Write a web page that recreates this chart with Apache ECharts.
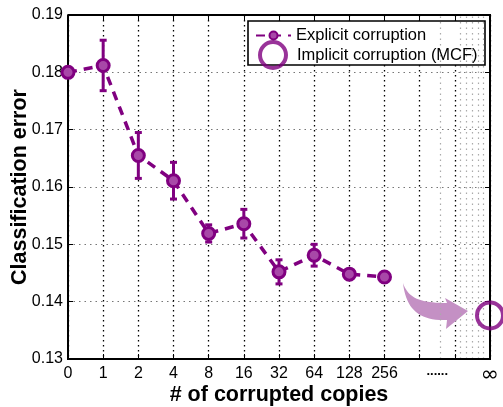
<!DOCTYPE html>
<html>
<head>
<meta charset="utf-8">
<script src="https://cdn.jsdelivr.net/npm/echarts@6/dist/echarts.min.js"></script>
<style>
  html, body { margin: 0; padding: 0; background: #fff; }
  #chart { width: 503px; height: 407px; }
</style>
</head>
<body>
<div id="chart"></div>
<script>
// Tick labels for the x positions 0..12 (10 and 11 lie in the gap before infinity)
var copyLabels = ['0', '1', '2', '4', '8', '16', '32', '64', '128', '256', '', '', '∞'];
// Mean classification error with explicit corruption, one value per copy count
var explicitMean = [0.1800, 0.1812, 0.1655, 0.1611, 0.1519, 0.1536, 0.1452, 0.1481, 0.1448, 0.1443];
// Half-length of the error bar at each copy count
var explicitErr = [0.0000, 0.0044, 0.0040, 0.0032, 0.0015, 0.0025, 0.0021, 0.0019, 0.0007, 0.0005];
// Marginalized corrupted features: the limit of infinitely many copies
var implicitMCF = 0.1376;
var infinityPos = 12;
// Extra faint grid lines crowding towards infinity
var fadeLines = [10.58, 11.15, 11.32, 11.5, 11.66, 11.8];

var PURPLE = '#800080';
var FONT = 'Liberation Sans';
var GRID = { left: 68, right: 13, top: 15, bottom: 48 };
var W = 503, H = 407;
var X0 = GRID.left, X1 = W - GRID.right, Y0 = GRID.top, Y1 = H - GRID.bottom;

var chart = echarts.init(document.getElementById('chart'), null, { renderer: 'canvas' });

var explicitData = explicitMean.map(function (v, i) { return [i, v]; });
var errData = explicitMean.map(function (v, i) { return [i, v - explicitErr[i], v + explicitErr[i]]; });

// sample a cubic bezier into polygon points
function bezier(p0, p1, p2, p3, n) {
  var pts = [];
  for (var k = 0; k <= n; k++) {
    var t = k / n, u = 1 - t;
    pts.push([
      u * u * u * p0[0] + 3 * u * u * t * p1[0] + 3 * u * t * t * p2[0] + t * t * t * p3[0],
      u * u * u * p0[1] + 3 * u * u * t * p1[1] + 3 * u * t * t * p2[1] + t * t * t * p3[1]
    ]);
  }
  return pts;
}
var arrowPts = []
  .concat(bezier([403, 283], [408, 298], [420, 303], [447, 303], 20))
  .concat([[445, 298], [468, 311], [446, 329], [447, 320]])
  .concat(bezier([447, 320], [420, 321], [406, 310], [403, 283], 20));

function frameLine() { return { show: true, onZero: false, lineStyle: { color: '#000', width: 1.5 } }; }
function innerTick() { return { show: true, inside: true, length: 5, lineStyle: { color: '#000' } }; }

var option = {
  animation: false,
  backgroundColor: '#fff',
  grid: {
    left: GRID.left, right: GRID.right, top: GRID.top, bottom: GRID.bottom,
    containLabel: false, outerBoundsMode: 'none'
  },
  xAxis: [
    {
      type: 'value', min: 0, max: 12, interval: 1, position: 'bottom',
      axisLine: frameLine(), axisTick: innerTick(),
      splitLine: { show: true, lineStyle: { color: '#000', type: [1.5, 3.5], width: 1.3 } },
      axisLabel: {
        color: '#000', fontFamily: FONT, fontSize: 16, margin: 7,
        showMinLabel: true, showMaxLabel: true,
        formatter: function (v) {
          var s = copyLabels[Math.round(v)] || '';
          return s === '∞' ? '{inf|∞}' : s;
        },
        rich: { inf: { fontFamily: 'DejaVu Sans', fontSize: 22, color: '#000', padding: [-2, 0, 0, 0] } }
      },
      name: '# of corrupted copies', nameLocation: 'middle', nameGap: 25, nameMoveOverlap: false,
      nameTextStyle: { color: '#000', fontFamily: FONT, fontSize: 21.5, fontWeight: 'bold' }
    },
    {
      type: 'value', min: 0, max: 24, interval: 1, position: 'bottom',
      axisLine: { show: false, onZero: false }, axisTick: { show: false }, splitLine: { show: false },
      axisLabel: {
        color: '#000', fontFamily: FONT, fontSize: 13, margin: 6, fontWeight: 'bold',
        formatter: function (v) { return Math.round(v) === 21 ? '......' : ''; }
      }
    },
    {
      type: 'value', min: 0, max: 12, interval: 1, position: 'top',
      axisLine: frameLine(), axisTick: innerTick(),
      axisLabel: { show: false }, splitLine: { show: false }
    }
  ],
  yAxis: [
    {
      type: 'value', min: 0.13, max: 0.19, interval: 0.01,
      axisLine: frameLine(), axisTick: innerTick(),
      splitLine: { show: true, lineStyle: { color: '#777', type: [1.5, 4], width: 1.2 } },
      axisLabel: {
        color: '#000', fontFamily: FONT, fontSize: 16, margin: 5,
        formatter: function (v) { return v.toFixed(2); }
      },
      name: 'Classification error', nameLocation: 'middle', nameGap: 37, nameMoveOverlap: false,
      nameTextStyle: { color: '#000', fontFamily: FONT, fontSize: 21.5, fontWeight: 'bold' }
    },
    {
      type: 'value', min: 0.13, max: 0.19, interval: 0.01, position: 'right',
      axisLine: frameLine(), axisTick: innerTick(),
      axisLabel: { show: false }, splitLine: { show: false }
    }
  ],
  legend: [
    {
      data: ['Explicit corruption'], left: 255, top: 27, orient: 'vertical', padding: 0,
      itemWidth: 35, itemHeight: 10, itemGap: 0, z: 10,
      textStyle: { color: '#000', fontFamily: FONT, fontSize: 16.5 }
    },
    {
      data: [{ name: 'Implicit corruption (MCF)', icon: 'circle' }], left: 258, top: 40, padding: 0,
      itemWidth: 26, itemHeight: 26, z: 10,
      itemStyle: { color: 'rgba(0,0,0,0)', borderColor: PURPLE, borderWidth: 4 },
      textStyle: { color: '#000', fontFamily: FONT, fontSize: 16.5, padding: [0, 0, 0, 6] }
    }
  ],
  graphic: [
    {
      // black box around the plotting area
      type: 'polyline', z: 6, silent: true,
      shape: { points: [[X0, Y0], [X1, Y0], [X1, Y1], [X0, Y1], [X0, Y0]] },
      style: { fill: null, stroke: '#000', lineWidth: 2 }
    },
    {
      type: 'rect', z: 5, silent: true,
      shape: { x: 248, y: 21, width: 237, height: 44 },
      style: { fill: '#fff', stroke: '#000', lineWidth: 1.6 }
    },
    {
      // curved arrow pointing from the last explicit point to the MCF limit
      type: 'polygon', z: 5, silent: true,
      shape: { points: arrowPts },
      style: { fill: '#c490c4' }
    }
  ],
  series: [
    {
      name: 'grid-fade', type: 'line', data: [], silent: true,
      xAxisIndex: 2, yAxisIndex: 1,
      markLine: {
        silent: true, symbol: 'none', label: { show: false },
        lineStyle: { color: '#aaa', type: [1.5, 4], width: 1.2 },
        data: fadeLines.map(function (x) { return { xAxis: x }; })
      }
    },
    {
      type: 'custom', name: 'error', z: 3,
      renderItem: function (params, api) {
        var x = api.value(0);
        var lo = api.coord([x, api.value(1)]);
        var hi = api.coord([x, api.value(2)]);
        if (Math.abs(hi[1] - lo[1]) < 0.5) return { type: 'group', children: [] };
        var cap = 3.5;
        var st = { stroke: PURPLE, lineWidth: 3 };
        return {
          type: 'group',
          children: [
            { type: 'line', shape: { x1: lo[0], y1: lo[1], x2: hi[0], y2: hi[1] }, style: st },
            { type: 'line', shape: { x1: lo[0] - cap, y1: lo[1], x2: lo[0] + cap, y2: lo[1] }, style: st },
            { type: 'line', shape: { x1: hi[0] - cap, y1: hi[1], x2: hi[0] + cap, y2: hi[1] }, style: st }
          ]
        };
      },
      encode: { x: 0, y: [1, 2] },
      data: errData
    },
    {
      name: 'Explicit corruption', type: 'line', z: 7, clip: false,
      data: explicitData,
      symbol: 'circle', symbolSize: 12,
      lineStyle: { color: PURPLE, width: 3.5, type: [9, 7] },
      itemStyle: { color: '#a848a8', borderColor: PURPLE, borderWidth: 3 }
    },
    {
      name: 'Implicit corruption (MCF)', type: 'scatter', z: 7, clip: false,
      data: [[infinityPos, implicitMCF]],
      symbol: 'circle', symbolSize: 26,
      itemStyle: { color: 'rgba(0,0,0,0)', borderColor: PURPLE, borderWidth: 4 }
    }
  ]
};

chart.setOption(option);
</script>
</body>
</html>
